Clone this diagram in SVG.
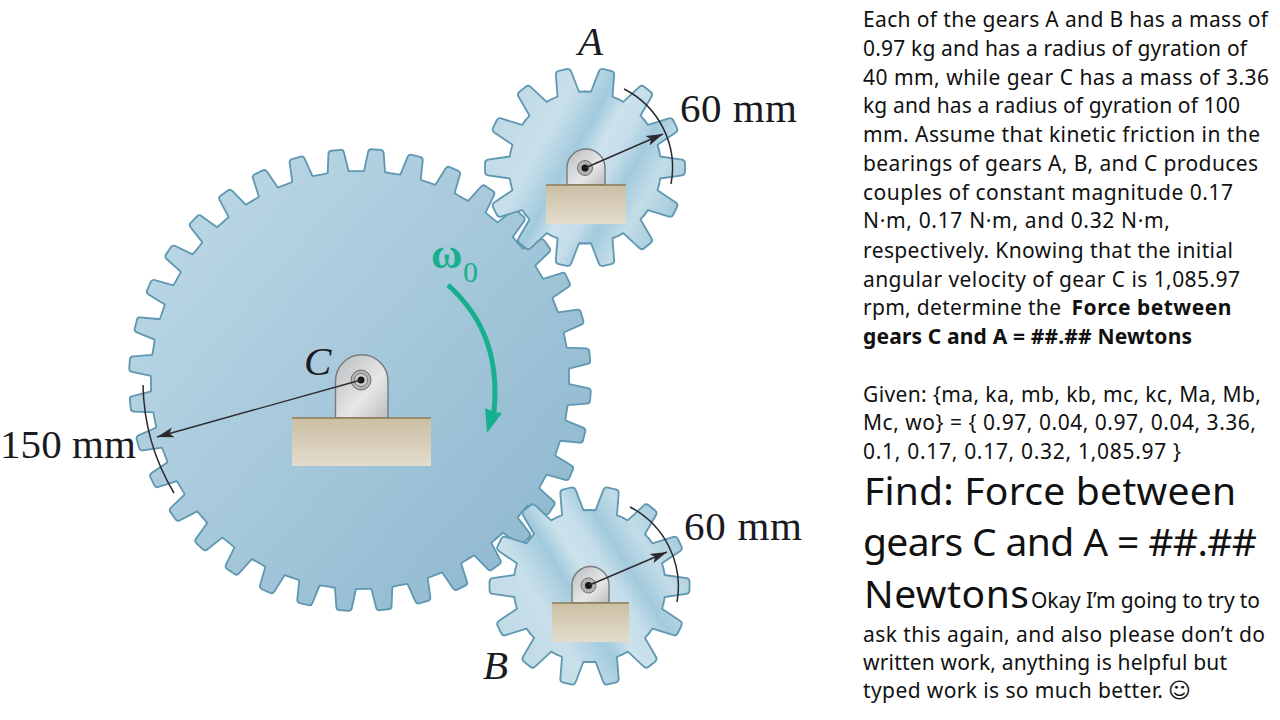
<svg xmlns="http://www.w3.org/2000/svg" width="1280" height="720" viewBox="0 0 1280 720">
<style>
.t{font-family:"Noto Sans","Open Sans",sans-serif;font-size:21px;fill:#111}
.b{font-weight:700}
.f{font-family:"Noto Sans","Open Sans",sans-serif;font-size:39px;fill:#111}
.s{font-family:"Liberation Serif",serif;font-size:41px;fill:#1a1a22}
.i{font-style:italic}
.edge{fill:none;stroke:#5f98b0;stroke-width:1.8;stroke-linejoin:round;stroke-linecap:round}
.post{stroke:#77797b;stroke-width:1.4;fill:url(#post)}
.hub{fill:#b0b2b4;stroke:#6d6f71;stroke-width:1}
.pin{fill:#161616}
.base{fill:url(#base)}
.cap{stroke:#8c7c55;stroke-width:1.6;fill:none}
.dim{fill:none;stroke:#2b2b2f;stroke-width:1.5}
.ray{fill:none;stroke:#2b2b2f;stroke-width:1.4;marker-end:url(#head)}
</style>
<defs>
<marker id="head" markerUnits="userSpaceOnUse" markerWidth="18" markerHeight="12" refX="15" refY="5" orient="auto" viewBox="0 0 16 10"><path d="M0 0.5L15 5L0 9.5L3.5 5Z" fill="#2b2b2f"/></marker>
<linearGradient id="gc" gradientUnits="userSpaceOnUse" x1="-210" y1="-180" x2="200" y2="180"><stop offset="0" stop-color="#bcd8e6"/><stop offset="1" stop-color="#8fb8cf"/></linearGradient>
<linearGradient id="ga" gradientUnits="userSpaceOnUse" x1="-85" y1="-50" x2="85" y2="45"><stop offset="0" stop-color="#bfdae6"/><stop offset=".25" stop-color="#c9e0ea"/><stop offset=".42" stop-color="#a2cadd"/><stop offset=".52" stop-color="#cce2ec"/><stop offset=".62" stop-color="#c6deea"/><stop offset=".72" stop-color="#a2cadc"/><stop offset=".85" stop-color="#c3dce8"/><stop offset="1" stop-color="#a8cddd"/></linearGradient>
<linearGradient id="gb" gradientUnits="userSpaceOnUse" x1="-85" y1="55" x2="85" y2="-50"><stop offset="0" stop-color="#bfdae6"/><stop offset=".25" stop-color="#c9e0ea"/><stop offset=".42" stop-color="#a2cadd"/><stop offset=".52" stop-color="#cce2ec"/><stop offset=".62" stop-color="#c6deea"/><stop offset=".72" stop-color="#a2cadc"/><stop offset=".85" stop-color="#c3dce8"/><stop offset="1" stop-color="#a8cddd"/></linearGradient>
<linearGradient id="post" x1="0" y1="0" x2="1" y2="1"><stop offset="0" stop-color="#b9bbbd"/><stop offset=".6" stop-color="#e6e7e8"/><stop offset="1" stop-color="#bcbec0"/></linearGradient>
<linearGradient id="base" x1="0" y1="0" x2="0" y2="1"><stop offset="0" stop-color="#cbbfa4"/><stop offset="1" stop-color="#e3dccd"/></linearGradient>
<path id="cw" d="M190 -16.600L208.200 -18.200L209 -10.500L228 -7.800Q231 -7.400 231 -4.500L231 4.500Q231 7.400 228 7.800L209 10.500L208.200 18.200L190 16.600Z"/>
<path id="ce" d="M208.200 -18.200L209 -10.500L228 -7.800Q231 -7.400 231 -4.500L231 4.500Q231 7.400 228 7.800L209 10.500L208.200 18.200"/>
<path id="sw" d="M60 -13.700L74.100 -16.900L75.200 -11L97 -7.800Q100 -7.300 100 -4L100 4Q100 7.300 97 7.800L75.200 11L74.100 16.900L60 13.700Z"/>
<path id="se" d="M74.100 -16.900L75.200 -11L97 -7.800Q100 -7.300 100 -4L100 4Q100 7.300 97 7.800L75.200 11L74.100 16.900"/>
<clipPath id="cc">
<circle r="200"/>
<use href="#cw" transform="rotate(4)"/><use href="#cw" transform="rotate(14)"/><use href="#cw" transform="rotate(24)"/><use href="#cw" transform="rotate(34)"/><use href="#cw" transform="rotate(44)"/><use href="#cw" transform="rotate(54)"/><use href="#cw" transform="rotate(64)"/><use href="#cw" transform="rotate(74)"/><use href="#cw" transform="rotate(84)"/><use href="#cw" transform="rotate(94)"/><use href="#cw" transform="rotate(104)"/><use href="#cw" transform="rotate(114)"/><use href="#cw" transform="rotate(124)"/><use href="#cw" transform="rotate(134)"/><use href="#cw" transform="rotate(144)"/><use href="#cw" transform="rotate(154)"/><use href="#cw" transform="rotate(164)"/><use href="#cw" transform="rotate(174)"/><use href="#cw" transform="rotate(184)"/><use href="#cw" transform="rotate(194)"/><use href="#cw" transform="rotate(204)"/><use href="#cw" transform="rotate(214)"/><use href="#cw" transform="rotate(224)"/><use href="#cw" transform="rotate(234)"/><use href="#cw" transform="rotate(244)"/><use href="#cw" transform="rotate(254)"/><use href="#cw" transform="rotate(264)"/><use href="#cw" transform="rotate(274)"/><use href="#cw" transform="rotate(284)"/><use href="#cw" transform="rotate(294)"/><use href="#cw" transform="rotate(304)"/><use href="#cw" transform="rotate(314)"/><use href="#cw" transform="rotate(324)"/><use href="#cw" transform="rotate(334)"/><use href="#cw" transform="rotate(344)"/><use href="#cw" transform="rotate(354)"/>
</clipPath>
<clipPath id="cs">
<circle r="70"/>
<use href="#sw"/><use href="#sw" transform="rotate(25.714)"/><use href="#sw" transform="rotate(51.429)"/><use href="#sw" transform="rotate(77.143)"/><use href="#sw" transform="rotate(102.857)"/><use href="#sw" transform="rotate(128.571)"/><use href="#sw" transform="rotate(154.286)"/><use href="#sw" transform="rotate(180)"/><use href="#sw" transform="rotate(205.714)"/><use href="#sw" transform="rotate(231.429)"/><use href="#sw" transform="rotate(257.143)"/><use href="#sw" transform="rotate(282.857)"/><use href="#sw" transform="rotate(308.571)"/><use href="#sw" transform="rotate(334.286)"/>
</clipPath>
<g id="co" class="edge">
<use href="#ce" transform="rotate(4)"/><use href="#ce" transform="rotate(14)"/><use href="#ce" transform="rotate(24)"/><use href="#ce" transform="rotate(34)"/><use href="#ce" transform="rotate(44)"/><use href="#ce" transform="rotate(54)"/><use href="#ce" transform="rotate(64)"/><use href="#ce" transform="rotate(74)"/><use href="#ce" transform="rotate(84)"/><use href="#ce" transform="rotate(94)"/><use href="#ce" transform="rotate(104)"/><use href="#ce" transform="rotate(114)"/><use href="#ce" transform="rotate(124)"/><use href="#ce" transform="rotate(134)"/><use href="#ce" transform="rotate(144)"/><use href="#ce" transform="rotate(154)"/><use href="#ce" transform="rotate(164)"/><use href="#ce" transform="rotate(174)"/><use href="#ce" transform="rotate(184)"/><use href="#ce" transform="rotate(194)"/><use href="#ce" transform="rotate(204)"/><use href="#ce" transform="rotate(214)"/><use href="#ce" transform="rotate(224)"/><use href="#ce" transform="rotate(234)"/><use href="#ce" transform="rotate(244)"/><use href="#ce" transform="rotate(254)"/><use href="#ce" transform="rotate(264)"/><use href="#ce" transform="rotate(274)"/><use href="#ce" transform="rotate(284)"/><use href="#ce" transform="rotate(294)"/><use href="#ce" transform="rotate(304)"/><use href="#ce" transform="rotate(314)"/><use href="#ce" transform="rotate(324)"/><use href="#ce" transform="rotate(334)"/><use href="#ce" transform="rotate(344)"/><use href="#ce" transform="rotate(354)"/>
</g>
<g id="so" class="edge">
<use href="#se"/><use href="#se" transform="rotate(25.714)"/><use href="#se" transform="rotate(51.429)"/><use href="#se" transform="rotate(77.143)"/><use href="#se" transform="rotate(102.857)"/><use href="#se" transform="rotate(128.571)"/><use href="#se" transform="rotate(154.286)"/><use href="#se" transform="rotate(180)"/><use href="#se" transform="rotate(205.714)"/><use href="#se" transform="rotate(231.429)"/><use href="#se" transform="rotate(257.143)"/><use href="#se" transform="rotate(282.857)"/><use href="#se" transform="rotate(308.571)"/><use href="#se" transform="rotate(334.286)"/>
</g>
</defs>
<rect width="1280" height="720" fill="#fff"/>

<g id="gear-c">
<g transform="translate(360 380)">
<rect x="-240" y="-240" width="480" height="480" fill="url(#gc)" clip-path="url(#cc)"/>
<use href="#co"/>
</g>
<path class="post" d="M335.500 418V381A26 26 0 0 1 388 381V418Z"/>
<rect class="base" x="292" y="418" width="139" height="48"/>
<path class="cap" d="M292 418H431"/>
<circle class="hub" cx="361" cy="380" r="10"/><circle cx="361" cy="380" r="6.500" fill="#cfd0d1" stroke="#77797b"/><circle class="pin" cx="361" cy="380" r="3.500"/>
<text class="s i" x="304" y="375" font-size="40">C</text>
</g>

<g id="gear-a">
<g transform="translate(585 167.500)">
<rect x="-105" y="-105" width="210" height="210" fill="url(#ga)" clip-path="url(#cs)"/>
<use href="#so"/>
</g>
<path class="post" d="M567 185V168A19 19 0 0 1 605 168V185Z"/>
<rect class="base" x="546" y="185" width="80" height="39"/>
<path class="cap" d="M546 185H626"/>
<circle class="hub" cx="585" cy="168" r="7.500"/><circle class="pin" cx="585" cy="168" r="3.500"/>
<text class="s i" x="578" y="55">A</text>
</g>

<g id="gear-b">
<g transform="translate(589.500 586)">
<rect x="-105" y="-105" width="210" height="210" fill="url(#gb)" clip-path="url(#cs)"/>
<use href="#so"/>
</g>
<path class="post" d="M572 603V585A18.500 18.500 0 0 1 609 585V603Z"/>
<rect class="base" x="552" y="603" width="77" height="39"/>
<path class="cap" d="M552 603H629"/>
<circle class="hub" cx="588.500" cy="585.500" r="7.500"/><circle class="pin" cx="588.500" cy="585.500" r="3.500"/>
<text class="s i" x="483" y="679">B</text>
</g>

<g id="connectors">
<path class="dim" d="M143 385A218 218 0 0 0 174 493"/>
<path class="ray" d="M361 380L157 437"/>
<path class="dim" d="M624 89A88 88 0 0 1 671 184"/>
<path class="ray" d="M585 168L663 134"/>
<path class="dim" d="M630 507A89.500 89.500 0 0 1 677 602"/>
<path class="ray" d="M588.500 585.500L667 552"/>
<path d="M448 285C478 312 500 350 494 412" fill="none" stroke="#17b08f" stroke-width="5"/>
<path d="M485 408L494 412L502 413L487 433Z" fill="#17b08f"/>
</g>

<g id="labels">
<text class="s" x="680" y="122" textLength="117">60 mm</text>
<text class="s" x="684" y="540" textLength="118">60 mm</text>
<text class="s" x="0" y="458" textLength="136">150 mm</text>
<text x="431" y="268" font-family="Liberation Serif,serif" font-weight="700" font-size="43" fill="#17b08f">ω</text>
<text x="463" y="282" font-family="Liberation Serif,serif" font-size="30" fill="#17b08f">0</text>
</g>

<g id="question">
<text class="t" x="863" y="27" textLength="405">Each of the gears A and B has a mass of</text>
<text class="t" x="863" y="55.500" textLength="384">0.97 kg and has a radius of gyration of</text>
<text class="t" x="863" y="84.500" textLength="406">40 mm, while gear C has a mass of 3.36</text>
<text class="t" x="863" y="113" textLength="377">kg and has a radius of gyration of 100</text>
<text class="t" x="863" y="142" textLength="397">mm. Assume that kinetic friction in the</text>
<text class="t" x="863" y="171" textLength="395">bearings of gears A, B, and C produces</text>
<text class="t" x="863" y="199.500" textLength="370">couples of constant magnitude 0.17</text>
<text class="t" x="863" y="228" textLength="307">N·m, 0.17 N·m, and 0.32 N·m,</text>
<text class="t" x="863" y="257.500" textLength="370">respectively. Knowing that the initial</text>
<text class="t" x="863" y="286.500" textLength="377">angular velocity of gear C is 1,085.97</text>
<text class="t" x="863" y="315" textLength="198">rpm, determine the</text>
<text class="t b" x="1071.500" y="315" textLength="160">Force between</text>
<text class="t b" x="863" y="343.500" textLength="329">gears C and A = ##.## Newtons</text>
<text class="t" x="863" y="401.500" textLength="398">Given: {ma, ka, mb, kb, mc, kc, Ma, Mb,</text>
<text class="t" x="863" y="430" textLength="393">Mc, wo} = { 0.97, 0.04, 0.97, 0.04, 3.36,</text>
<text class="t" x="863" y="459" textLength="318">0.1, 0.17, 0.17, 0.32, 1,085.97 }</text>
<text class="f" x="864" y="504.500" textLength="372">Find: Force between</text>
<text class="f" x="863" y="556" textLength="394">gears C and A = ##.##</text>
<text class="f" x="864" y="607.500" textLength="165">Newtons</text>
<text class="t" x="1031" y="607.500" textLength="229">Okay I’m going to try to</text>
<text class="t" x="863" y="641.500" textLength="402">ask this again, and also please don’t do</text>
<text class="t" x="863" y="669.500" textLength="364">written work, anything is helpful but</text>
<text class="t" x="863" y="698" textLength="300">typed work is so much better.</text>
<text x="1168" y="698" font-family="DejaVu Sans,sans-serif" font-size="22" fill="#111">☺</text>
</g>
</svg>
